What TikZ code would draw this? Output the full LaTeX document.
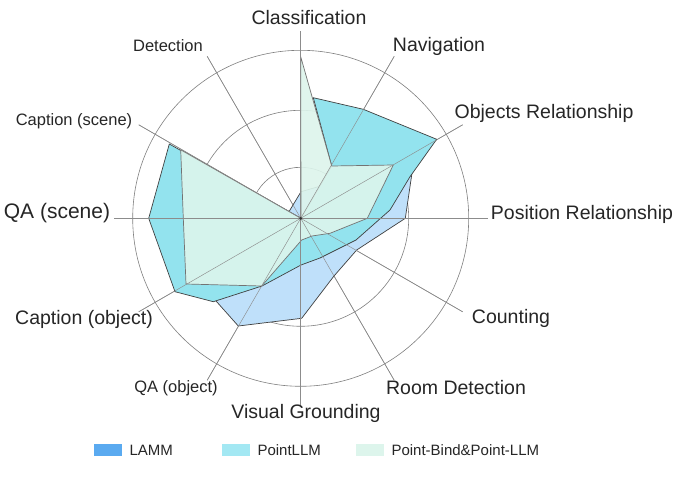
\documentclass[tikz,border=0pt]{standalone}
\usepackage{fontspec}
\setmainfont{Liberation Sans}
\definecolor{lammF}{HTML}{BFE0FA}
\definecolor{lammS}{HTML}{5AAAF0}
\definecolor{pllmF}{HTML}{93E3EE}
\definecolor{pllmS}{HTML}{A3E8F3}
\definecolor{pbF}{HTML}{DDF5EC}
\begin{document}
\begin{tikzpicture}[x=1pt,y=-1pt,
  grid/.style={draw=black!50,line width=0.6pt},
  poly/.style={draw=black!75,line width=0.7pt,line join=round},
  big/.style={font=\fontsize{19.5}{22}\selectfont,text=black!85},
  small/.style={font=\fontsize{16.5}{19}\selectfont,text=black!85},
  leg/.style={font=\fontsize{15}{18}\selectfont,anchor=west,text=black!85}]
\useasboundingbox (0,0) rectangle (679,481);
\fill[white] (0,0) rectangle (679,481);
\coordinate (c) at (300.7,218.3);
\foreach \r in {51,108,168} \draw[grid] (c) circle[radius=\r];
\foreach \a in {0,30,...,330} \draw[grid] (c) -- ++(\a:187 and -187);
% LAMM
\draw[poly,fill=lammF] (301,191.7) -- (393.3,165) -- (415,152.7) -- (405.3,218.3) -- (356.7,250) -- (334,276) -- (301.7,318.3) -- (238.3,326) -- (203.3,286.7) -- (262,280) -- (285,218.3) -- cycle;
% PointLLM
\draw[poly,fill=pllmF] (301,218.3) -- (169.3,144) -- (148.7,218.3) -- (175,291.7) -- (213.3,301.7) -- (262,286) -- (301,265) -- (320,258) -- (356,240) -- (390,210) -- (410,176.7) -- (436.7,139.3) -- (363.3,109.3) -- (313.3,97.7) -- (331.7,166) -- cycle;
% Point-Bind
\draw[poly,draw=black!55,fill=pbF,fill opacity=0.9] (301,218.3) -- (180.7,149.7) -- (183.3,218.3) -- (186,284) -- (261.7,286) -- (301.7,240) -- (312,236) -- (330,233.3) -- (367.3,218.3) -- (393.3,165) -- (331.7,166) -- (300.7,56.7) -- cycle;
\foreach \a in {0,30,...,330} \draw[black!45,line width=0.45pt] (c) -- ++(\a:187 and -187);
\fill[black!80] (c) circle[radius=1.5];
\node[big] (l1) at (309,18) {Classification};
\node[big] (l2) at (439,46) {Navigation};
\node[big] (l3) at (544,113) {Objects Relationship};
\node[big] (l4) at (582,214) {Position Relationship};
\node[big] (l5) at (511,318) {Counting};
\node[big] (l6) at (456,388) {Room Detection};
\node[big] (l7) at (306,413) {Visual Grounding};
\node[small] (l8) at (176,388) {QA (object)};
\node[big] (l9) at (84,319) {Caption (object)};
\node[font=\fontsize{21}{24}\selectfont,text=black!85] (l10) at (57,213) {QA (scene)};
\node[small] (l11) at (74,121) {Caption (scene)};
\node[small] (l12) at (168,46) {Detection};
\fill[lammS] (94,444) rectangle (122,456);
\node[leg] (g1) at (126,450) {LAMM};
\fill[pllmS] (222,444) rectangle (250,456);
\node[leg] (g2) at (254,450) {PointLLM};
\fill[pbF] (356,444) rectangle (384,456);
\node[leg] (g3) at (388,450) {Point-Bind\&Point-LLM};
\end{tikzpicture}
\end{document}
